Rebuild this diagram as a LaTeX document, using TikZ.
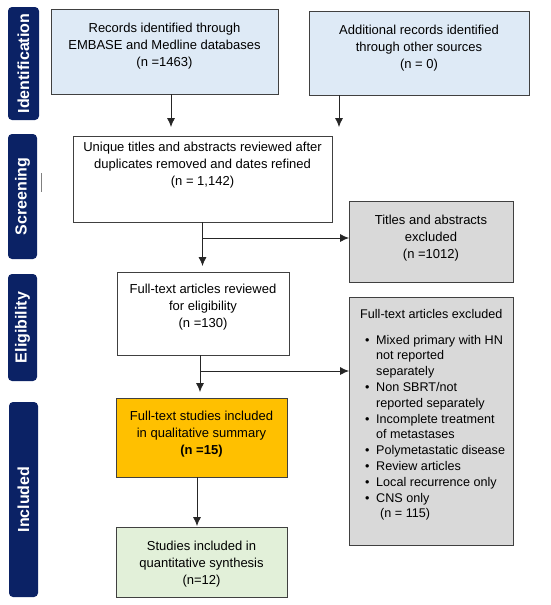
\documentclass[tikz,border=0pt]{standalone}
\usepackage{fontspec}
\setmainfont{Liberation Sans}
\usetikzlibrary{arrows.meta,calc}
\definecolor{navy}{HTML}{0B2265}
\definecolor{lblue}{HTML}{DEEAF6}
\definecolor{lgray}{HTML}{D9D9D9}
\definecolor{gold}{HTML}{FFC000}
\definecolor{lgreen}{HTML}{E2F0D9}
\definecolor{edge}{HTML}{404040}
\newcommand{\bl}{\makebox[16pt][l]{\hspace{5pt}\textbullet}}
\newcommand{\ci}{\hspace*{16pt}}
\begin{document}
\begin{tikzpicture}[x=1pt,y=-1pt,
  box/.style={draw=edge, line width=0.8pt, inner sep=0pt, outer sep=0pt},
  bluebox/.style={box, fill=lblue},
  whitebox/.style={box, fill=white},
  graybox/.style={box, fill=lgray},
  goldbox/.style={box, fill=gold},
  greenbox/.style={box, fill=lgreen},
  txt/.style={inner sep=0pt, align=center, font=\fontsize{13}{17}\selectfont, anchor=north},
  side/.style={fill=navy, rounded corners=4pt, inner sep=0pt},
  sidetxt/.style={text=white, font=\fontsize{16}{18}\selectfont\bfseries, rotate=90, inner sep=0pt},
  conn/.style={line width=0.8pt, draw=black!85},
  arr/.style={conn, -{Latex[length=9pt,width=8pt]}}
]
\useasboundingbox (0,0) rectangle (550,605);

% side labels
\node[side, minimum width=31pt, minimum height=113pt] (sid) at (23.5,63.5) {};
\node[sidetxt] (sidt) at (sid.center) {Identification};
\node[side, minimum width=29pt, minimum height=125pt] (sscr) at (22.5,196.5) {};
\node[sidetxt] (sscrt) at (sscr.center) {Screening};
\draw[gray, line width=1pt] ([xshift=4pt]sscr.east |- 0,173) coordinate (tk1) -- (tk1 |- 0,192);
\node[side, minimum width=29pt, minimum height=107pt] (sel) at (22.5,327.5) {};
\node[sidetxt] (selt) at (sel.center) {Eligibility};
\node[side, minimum width=29pt, minimum height=195pt] (sinc) at (23.5,499.5) {};
\node[sidetxt] (sinct) at (sinc.center) {Included};

% boxes
\node[bluebox, minimum width=227pt, minimum height=85pt] (b1) at (164.5,51.5) {};
\node[txt] (b1t) at (164.5,23) {Records identified through\\EMBASE and Medline databases\\(n =1463)};

\node[bluebox, minimum width=220pt, minimum height=84pt] (b2) at (419,53) {};
\node[txt] (b2t) at (419,25) {Additional records identified\\through other sources\\(n = 0)};

\node[whitebox, minimum width=259pt, minimum height=86pt] (b3) at (202.5,179) {};
\node[txt] (b3t) at (202.5,142) {Unique titles and abstracts reviewed after\\duplicates removed and dates refined\\(n = 1,142)};

\node[graybox, minimum width=164pt, minimum height=81pt] (g1) at (431,241.5) {};
\node[txt] (g1t) at (431,215) {Titles and abstracts\\excluded\\(n =1012)};

\node[whitebox, minimum width=172pt, minimum height=83pt] (b4) at (203,313.5) {};
\node[txt] (b4t) at (203,284) {Full-text articles reviewed\\for eligibility\\(n =130)};

\node[graybox, minimum width=164pt, minimum height=248pt] (g2) at (431,421) {};
\node[txt, anchor=north west, align=left, font=\fontsize{12.6}{15.8}\selectfont] (g2t) at (360,309)
 {Full-text articles excluded\\[10pt]
  \bl Mixed primary with HN\\
  \ci not reported\\
  \ci separately\\
  \bl Non SBRT/not\\
  \ci reported separately\\
  \bl Incomplete treatment\\
  \ci of metastases\\
  \bl Polymetastatic disease\\
  \bl Review articles\\
  \bl Local recurrence only\\
  \bl CNS only\\
  \ci\hspace*{4pt}(n = 115)};

\node[goldbox, minimum width=171pt, minimum height=79pt] (b5) at (201.5,437.5) {};
\node[txt] (b5t) at (201.5,411) {Full-text studies included\\in qualitative summary\\\textbf{(n =15)}};

\node[greenbox, minimum width=171pt, minimum height=70pt] (b6) at (201.5,562) {};
\node[txt] (b6t) at (201.5,541) {Studies included in\\quantitative synthesis\\(n=12)};

% connectors
\draw[arr] ([xshift=6.5pt]b1.south) -- ([xshift=6.5pt,yshift=9pt]b1.south |- b3.north);
\draw[arr] ([xshift=-80pt]b2.south) -- ([xshift=-80pt,yshift=9pt]b2.south |- b3.north);
\coordinate (j1) at ([yshift=-16pt]b3.south);
\draw[conn] (b3.south) -- (j1);
\draw[arr] (j1) -- ([yshift=6pt]b3.south |- b4.north);
\draw[arr] (j1) -- (j1 -| g1.west);
\coordinate (j2) at ([xshift=-3pt,yshift=-16pt]b4.south);
\draw[conn] ([xshift=-3pt]b4.south) -- (j2);
\draw[arr] (j2) -- ([yshift=6pt]j2 |- b5.north);
\draw[arr] (j2) -- (j2 -| g2.west);
\draw[arr] ([xshift=-4.5pt]b5.south) -- ([xshift=-4.5pt,yshift=1pt]b5.south |- b6.north);
\end{tikzpicture}
\end{document}
